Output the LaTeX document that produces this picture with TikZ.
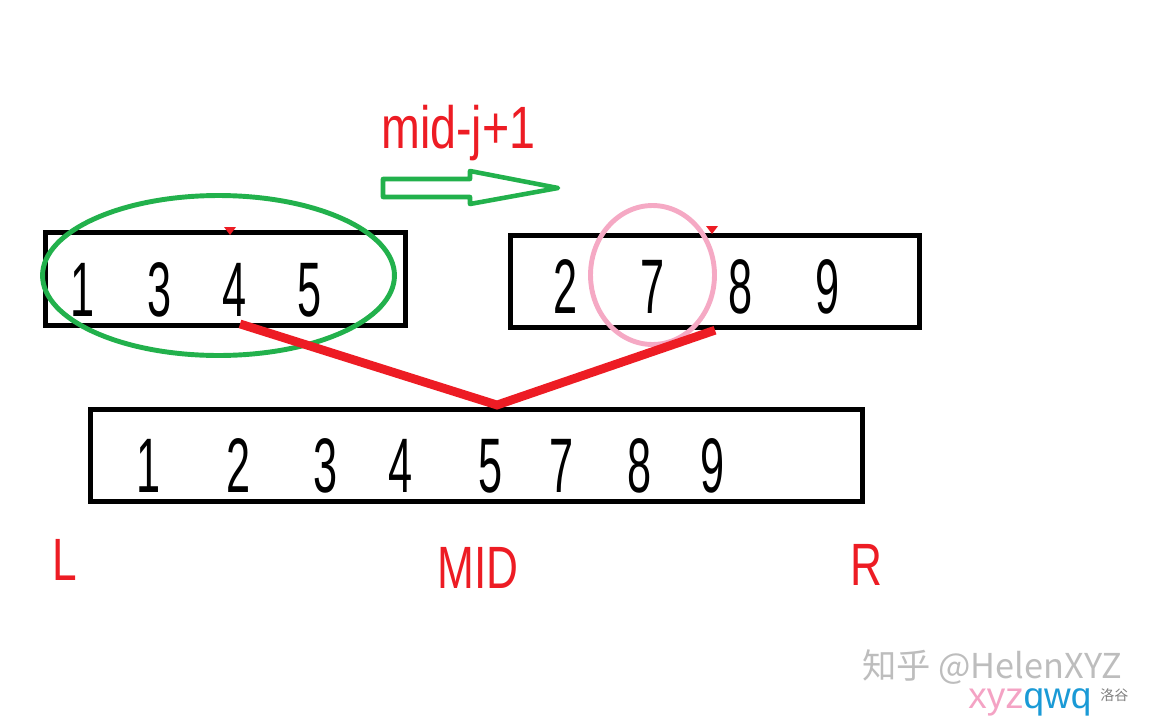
\documentclass[tikz,border=0pt]{standalone}
\usepackage{fontspec}
\setmainfont{Liberation Sans}
\newfontfamily\cjk{Noto Sans CJK SC}
\definecolor{paintred}{HTML}{ED1C24}
\definecolor{paintgreen}{HTML}{22B14C}
\definecolor{ringpink}{HTML}{F5A9C4}
\definecolor{wmgray}{HTML}{BDBDBD}
\definecolor{wmpink}{HTML}{F4A3C4}
\definecolor{wmblue}{HTML}{1A9AD6}
\newcommand*{\squeeze}[2]{\scalebox{#1}[1]{#2}}
\tikzset{
  arrbox/.style={draw=black,line width=2.8pt,inner sep=0pt,minimum height=1.85cm},
  num/.style={font=\fontsize{44}{44}\selectfont,inner sep=0pt},
  redlbl/.style={text=paintred,font=\fontsize{34}{34}\selectfont,inner sep=0pt,anchor=base west},
}

\begin{document}
\begin{tikzpicture}[x=0.02cm,y=-0.02cm]
  \useasboundingbox (0,0) rectangle (1152,720);
  % the two halves and the merged array
  \node[arrbox,minimum width=7.2cm] (lbox) at (225.5,279) {};
  \node[arrbox,minimum width=8.18cm] (rbox) at (715,281.5) {};
  \node[arrbox,minimum width=15.44cm] (mbox) at (476.5,455.5) {};
  \foreach \x/\v [count=\i] in {83/1,160/3,235/4,310/5}
    \node[num] (l\i) at (\x,290) {\squeeze{0.56}{\v}};
  \foreach \x/\v [count=\i] in {566/2,653/7,741/8,828/9}
    \node[num] (r\i) at (\x,287) {\squeeze{0.56}{\v}};
  \foreach \x/\v [count=\i] in {149/1,239/2,326/3,401/4,491/5,562/7,640/8,713/9}
    \node[num] (m\i) at (\x,466) {\squeeze{0.56}{\v}};
  % marks
  \draw[paintgreen,line width=2.8pt] (218.5,275.5) ellipse [x radius=3.52cm,y radius=1.6cm];
  \draw[ringpink,line width=2.8pt] (652.5,275) ellipse [x radius=1.24cm,y radius=1.39cm];
  \fill[paintred] (224,227) -- (236,227) -- (230,235) -- cycle;
  \fill[paintred] (706,226) -- (718,226) -- (712,234) -- cycle;
  \coordinate (mrg) at (497,405);
  \draw[paintred,line width=5pt,line join=miter] ([xshift=0.1cm,yshift=-0.14cm]l3.south) -- (mrg) -- (rbox.south);
  % shift arrow
  \node[redlbl] (shift) at (381,148) {\squeeze{0.78}{mid-j+1}};
  \draw[paintgreen,line width=2.6pt,line join=round] (383,179) -- (470,179) -- (470,171) -- (558,188) -- (470,204) -- (470,197) -- (383,197) -- cycle;
  % bounds
  \node[redlbl] (lo) at (52,580) {\squeeze{0.74}{L}};
  \node[redlbl] (mid) at (437,588) {\squeeze{0.74}{MID}};
  \node[redlbl] (hi) at (850,585) {\squeeze{0.74}{R}};
  % watermark
  \node[anchor=base west,inner sep=0pt,text=wmgray,font=\cjk\fontsize{19.5}{19.5}\selectfont] (zh) at (862,678) {知乎 @HelenXYZ};
  \node[anchor=base west,inner sep=0pt,font=\fontsize{21}{21}\selectfont] (lg) at (968,708) {\textcolor{wmpink}{xyz}\textcolor{wmblue}{qwq}};
  \node[anchor=base west,inner sep=0pt,text=gray,font=\cjk\fontsize{8}{8}\selectfont] (lgcn) at (1100,700) {洛谷};
\end{tikzpicture}
\end{document}
